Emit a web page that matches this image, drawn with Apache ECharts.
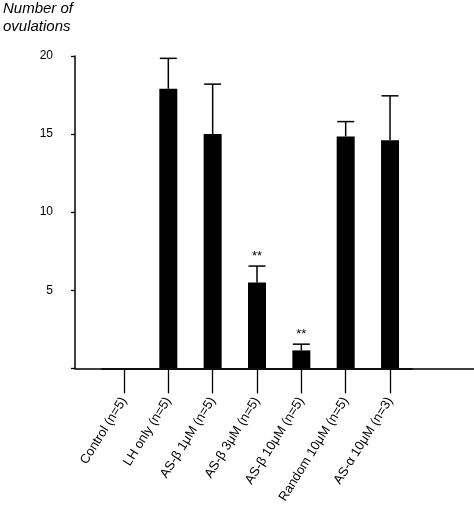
<!DOCTYPE html>
<html>
<head>
<meta charset="utf-8">
<script src="https://cdn.jsdelivr.net/npm/echarts@6/dist/echarts.min.js"></script>
<style>
  html, body { margin: 0; padding: 0; background: #fff; }
  #chart { width: 474px; height: 506px; }
</style>
</head>
<body>
<div id="chart"></div>
<script>
// groups on the x axis
var groups = ['Control (n=5)', 'LH only (n=5)', 'AS-β 1μM (n=5)', 'AS-β 3μM (n=5)', 'AS-β 10μM (n=5)', 'Random 10μM (n=5)', 'AS-α 10μM (n=3)'];
// mean number of ovulations
var means = [0, 17.9, 15.0, 5.5, 1.15, 14.85, 14.6];
// top of the error bar (mean + SEM)
var upper = [null, 19.85, 18.2, 6.55, 1.55, 15.8, 17.45];
// significance marks
var stars = ['', '', '', '**', '**', '', ''];
var yTicks = [0, 5, 10, 15, 20];

var font = 'Liberation Sans, Arial, Helvetica, sans-serif';
var myChart = echarts.init(document.getElementById('chart'));

var errData = [];
for (var i = 0; i < groups.length; i++) {
  errData.push([i, means[i], upper[i], stars[i]]);
}

var option = {
  animation: false,
  title: {
    text: 'Number of\novulations',
    left: 3,
    top: 0,
    padding: 0,
    textStyle: {
      fontFamily: font,
      fontStyle: 'italic',
      fontWeight: 'normal',
      fontSize: 15,
      lineHeight: 18,
      color: '#000'
    }
  },
  grid: [
    { left: 101.8, right: 61.8, top: 56, bottom: 137 },
    { left: 75, right: 0, top: 56, bottom: 137 }
  ],
  xAxis: [
    {
      type: 'category',
      gridIndex: 0,
      data: groups,
      axisLine: { show: true, lineStyle: { color: '#000', width: 1.5 } },
      axisTick: { show: true, alignWithLabel: true, length: 25, lineStyle: { color: '#000', width: 1.3 } },
      axisLabel: {
        interval: 0,
        rotate: 58,
        margin: 30,
        fontFamily: font,
        fontSize: 13,
        color: '#000'
      }
    },
    {
      // long baseline running to the right edge
      type: 'value',
      gridIndex: 1,
      min: 0,
      max: 1,
      axisLine: { show: true, lineStyle: { color: '#000', width: 1.5 } },
      axisTick: { show: false },
      axisLabel: { show: false },
      splitLine: { show: false }
    }
  ],
  yAxis: [
    {
      type: 'value',
      gridIndex: 0,
      min: yTicks[0],
      max: yTicks[yTicks.length - 1],
      interval: 5,
      offset: 26.8,
      axisLine: { show: true, lineStyle: { color: '#000', width: 1.5 } },
      axisTick: { show: true, length: 4, lineStyle: { color: '#000', width: 1.3 } },
      axisLabel: {
        margin: 22,
        fontFamily: font,
        fontSize: 12,
        color: '#000',
        formatter: function (v) { return v === 0 ? '' : String(v); }
      },
      splitLine: { show: false }
    },
    {
      type: 'value',
      gridIndex: 1,
      show: false,
      min: 0,
      max: 1
    }
  ],
  series: [
    {
      type: 'bar',
      xAxisIndex: 0,
      yAxisIndex: 0,
      data: means,
      barWidth: 18,
      itemStyle: { color: '#000' }
    },
    {
      // upper error bars with caps, plus significance stars
      type: 'custom',
      xAxisIndex: 0,
      yAxisIndex: 0,
      data: errData,
      z: 3,
      renderItem: function (params, api) {
        var hi = api.value(2);
        if (hi === null || isNaN(hi)) return null;
        var base = api.coord([api.value(0), api.value(1)]);
        var top = api.coord([api.value(0), hi]);
        var cap = 8.5;
        var children = [
          { type: 'line', shape: { x1: base[0], y1: base[1], x2: top[0], y2: top[1] }, style: { stroke: '#000', lineWidth: 1.5 } },
          { type: 'line', shape: { x1: top[0] - cap, y1: top[1], x2: top[0] + cap, y2: top[1] }, style: { stroke: '#000', lineWidth: 1.5 } }
        ];
        var s = errData[params.dataIndex][3];
        if (s) {
          children.push({
            type: 'text',
            style: {
              text: s, x: top[0], y: top[1] - 3,
              align: 'center', verticalAlign: 'bottom',
              font: '13px ' + font, fill: '#000'
            }
          });
        }
        return { type: 'group', children: children };
      }
    }
  ]
};

option && myChart.setOption(option);
</script>
</body>
</html>
